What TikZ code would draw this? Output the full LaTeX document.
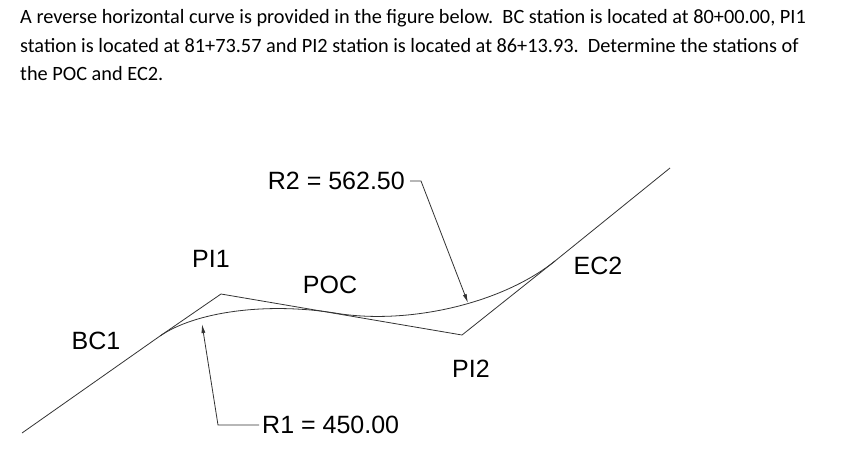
\documentclass[tikz,border=0pt]{standalone}
\usepackage{fontspec}
\usetikzlibrary{arrows.meta}
\setmainfont{Carlito}
\newfontfamily\arial{Liberation Sans}
\begin{document}
\begin{tikzpicture}[x=1pt,y=-1pt,
  para/.style={anchor=west,inner sep=0,font=\fontsize{20.3}{24}\selectfont},
  lbl/.style={inner sep=0,font=\arial\fontsize{25}{30}\selectfont},
  ln/.style={draw=black!80,line width=0.8pt},
  tip/.style={-{Latex[length=9pt,width=4pt]}}]
\useasboundingbox (0,0) rectangle (864,456);
\node[para] (t1) at (20,18) {A reverse horizontal curve is provided in the figure below.\ \ BC station is located at 80+00.00, PI1};
\node[para] (t2) at (20,46) {station is located at 81+73.57 and PI2 station is located at 86+13.93.\ \ Determine the stations of};
\node[para] (t3) at (20,74) {the POC and EC2.};
\coordinate (S) at (22,433);
\coordinate (BC) at (160,336);
\coordinate (PI1) at (221,294);
\coordinate (POC) at (335,313);
\coordinate (PI2) at (462,335);
\coordinate (EC) at (555,261);
\coordinate (E) at (670,168);
\draw[ln] (S) -- (BC) -- (PI1) -- (PI2) -- (EC) -- (E);
\draw[ln] (BC) .. controls (195,312) and (265,302) .. (POC) .. controls (405,325) and (500,305) .. (EC);
\node[lbl] (bc1) at (96,341) {BC1};
\node[lbl] (pi1) at (211,259) {PI1};
\node[lbl] (poc) at (330,285) {POC};
\node[lbl] (pi2) at (471,369) {PI2};
\node[lbl] (ec2) at (598,266) {EC2};
\node[lbl,anchor=west] (r1) at (262,425) {R1 = 450.00};
\node[lbl,anchor=east] (r2) at (405,181) {R2 = 562.50};
\coordinate (c1) at (218,425);
\coordinate (c2) at (421,181);
\coordinate (a1) at (202,324);
\coordinate (a2) at (468,303);
\draw[ln,tip] (r1.west) ++(-3,0) -- (c1) -- (a1);
\draw[ln,tip] (r2.east) ++(5,0) -- (c2) -- (a2);
\end{tikzpicture}
\end{document}
